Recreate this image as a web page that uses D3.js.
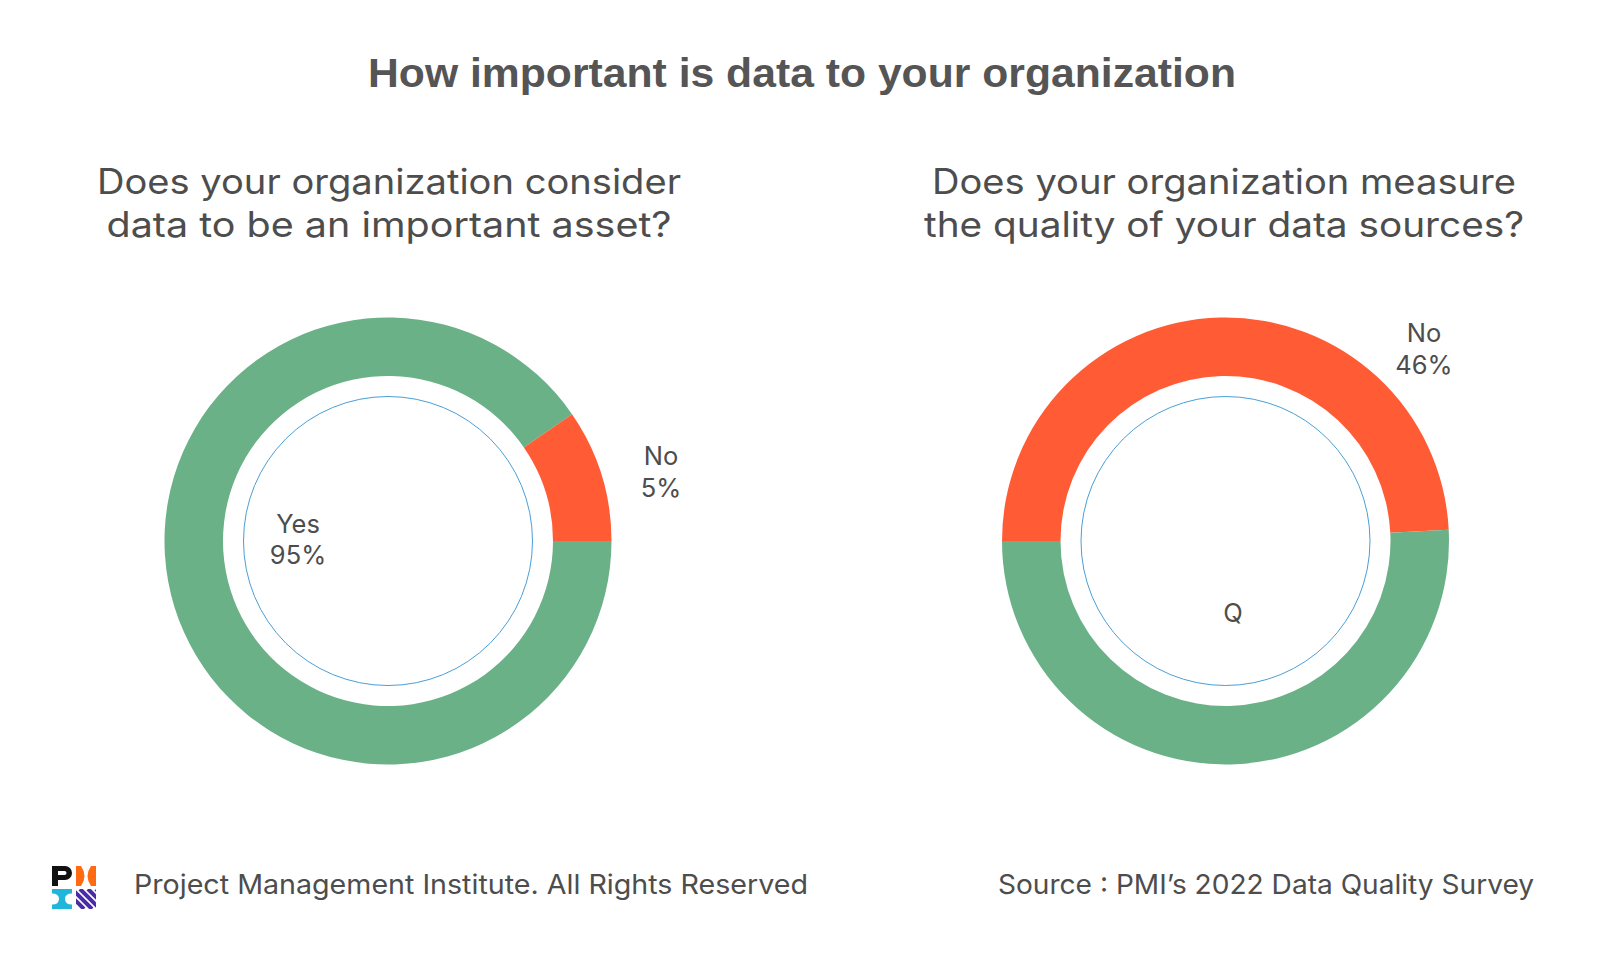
<!DOCTYPE html>
<html>
<head>
<meta charset="utf-8">
<script src="https://cdn.jsdelivr.net/npm/d3@7"></script>
<style>
  html, body { margin: 0; padding: 0; background: #ffffff; }
  svg { display: block; }
</style>
</head>
<body>
<svg id="chart" width="1600" height="964"></svg>
<script>
// ---- data ----
const title = "How important is data to your organization";
const leftQuestion = ["Does your organization consider", "data to be an important asset?"];
const rightQuestion = ["Does your organization measure", "the quality of your data sources?"];

// arc shares as drawn in the picture
const leftCategories = ["Yes", "No"];
const leftValues = [90.4, 9.6];
const leftLabels = ["95%", "5%"];

const rightCategories = ["No", "Yes"];
const rightValues = [49.2, 50.8];
const rightLabels = ["46%", ""];
const rightInnerLabel = "Q";

const footerLeft = "Project Management Institute. All Rights Reserved";
const footerRight = "Source : PMI\u2019s 2022 Data Quality Survey";

// ---- styling / layout ----
const colors = { Yes: "#6ab187", No: "#ff5b35" };
const textColor = "#4d4d4d";
const font = "Inter, 'Open Sans', 'DejaVu Sans', sans-serif";

const svg = d3.select("#chart");

function fitText(sel, width) {
  sel.attr("textLength", width).attr("lengthAdjust", "spacingAndGlyphs");
  return sel;
}

// title
fitText(svg.append("text")
  .attr("x", 802).attr("y", 87)
  .attr("text-anchor", "middle")
  .attr("font-family", "'Liberation Sans Narrow', 'Liberation Sans', sans-serif")
  .attr("font-weight", "bold")
  .attr("font-size", 41)
  .attr("fill", "#555555")
  .text(title), 868);

// subtitles
const subSpec = [
  { lines: leftQuestion, cx: 389, widths: [584, 565] },
  { lines: rightQuestion, cx: 1224, widths: [584, 600] }
];
subSpec.forEach(s => {
  s.lines.forEach((ln, i) => {
    fitText(svg.append("text")
      .attr("x", s.cx).attr("y", 194 + i * 43)
      .attr("text-anchor", "middle")
      .attr("font-family", font)
      .attr("font-size", 35)
      .attr("fill", textColor)
      .text(ln), s.widths[i]);
  });
});

const outerR = 223.5, innerR = 165, ringR = 144.5;
const arc = d3.arc().innerRadius(innerR).outerRadius(outerR);

function donut(cx, cy, cats, vals, startAngle) {
  const data = cats.map((c, i) => ({ cat: c, value: vals[i] }));
  const pie = d3.pie().value(d => d.value).sort(null)
    .startAngle(startAngle).endAngle(startAngle + 2 * Math.PI);
  const g = svg.append("g").attr("transform", `translate(${cx},${cy})`);
  g.selectAll("path").data(pie(data)).join("path")
    .attr("d", arc)
    .attr("fill", d => colors[d.data.cat]);
  g.append("circle").attr("r", ringR)
    .attr("fill", "none").attr("stroke", "#4a9fd6").attr("stroke-width", 1);
  return g;
}

donut(388, 541, leftCategories, leftValues, Math.PI / 2);
donut(1225.5, 541, rightCategories, rightValues, -Math.PI / 2);

function label(x, y, lines) {
  lines.forEach((ln, i) => {
    svg.append("text")
      .attr("x", x).attr("y", y + i * 31.5)
      .attr("text-anchor", "middle")
      .attr("font-family", font)
      .attr("font-size", 25.5)
      .attr("fill", textColor)
      .text(ln);
  });
}
label(298, 532.5, [leftCategories[0], leftLabels[0]]);
label(661, 465, [leftCategories[1], leftLabels[1]]);
label(1424, 342, [rightCategories[0], rightLabels[0]]);
label(1233, 621.5, [rightInnerLabel]);

// footer
fitText(svg.append("text")
  .attr("x", 134).attr("y", 894)
  .attr("font-family", font).attr("font-size", 27)
  .attr("fill", textColor).text(footerLeft), 674);
fitText(svg.append("text")
  .attr("x", 1534).attr("y", 894)
  .attr("text-anchor", "end")
  .attr("font-family", font).attr("font-size", 27)
  .attr("fill", textColor).text(footerRight), 536);

// logo
const logo = svg.append("g").attr("transform", "translate(52,866)");
logo.append("path")
  .attr("d", "M0,0 H13 A7,7 0 0 1 13,14 H6 V20 H0 Z M6,5 V9 H12.5 A2,2 0 0 0 12.5,5 Z")
  .attr("fill", "#111111").attr("fill-rule", "evenodd");
logo.append("path")
  .attr("d", "M24,0 H29 Q36,10 29,20 H24 Z M44,0 H39 Q32,10 39,20 H44 Z")
  .attr("fill", "#ff6a13");
logo.append("path")
  .attr("d", "M0,23 H20 V27.5 Q13,27.5 13,33 Q13,38.5 20,38.5 V43 H0 V38.5 Q7,38.5 7,33 Q7,27.5 0,27.5 Z")
  .attr("fill", "#1fb6d9");
const clip = logo.append("clipPath").attr("id", "lclip");
clip.append("rect").attr("x", 24).attr("y", 23).attr("width", 20).attr("height", 20);
const sg = logo.append("g").attr("clip-path", "url(#lclip)");
[-12, -4, 4, 12, 20].forEach(o => {
  sg.append("line")
    .attr("x1", 24 + o).attr("y1", 23)
    .attr("x2", 24 + o + 20).attr("y2", 43)
    .attr("stroke", "#4b2aa8").attr("stroke-width", 4);
});
</script>
</body>
</html>
